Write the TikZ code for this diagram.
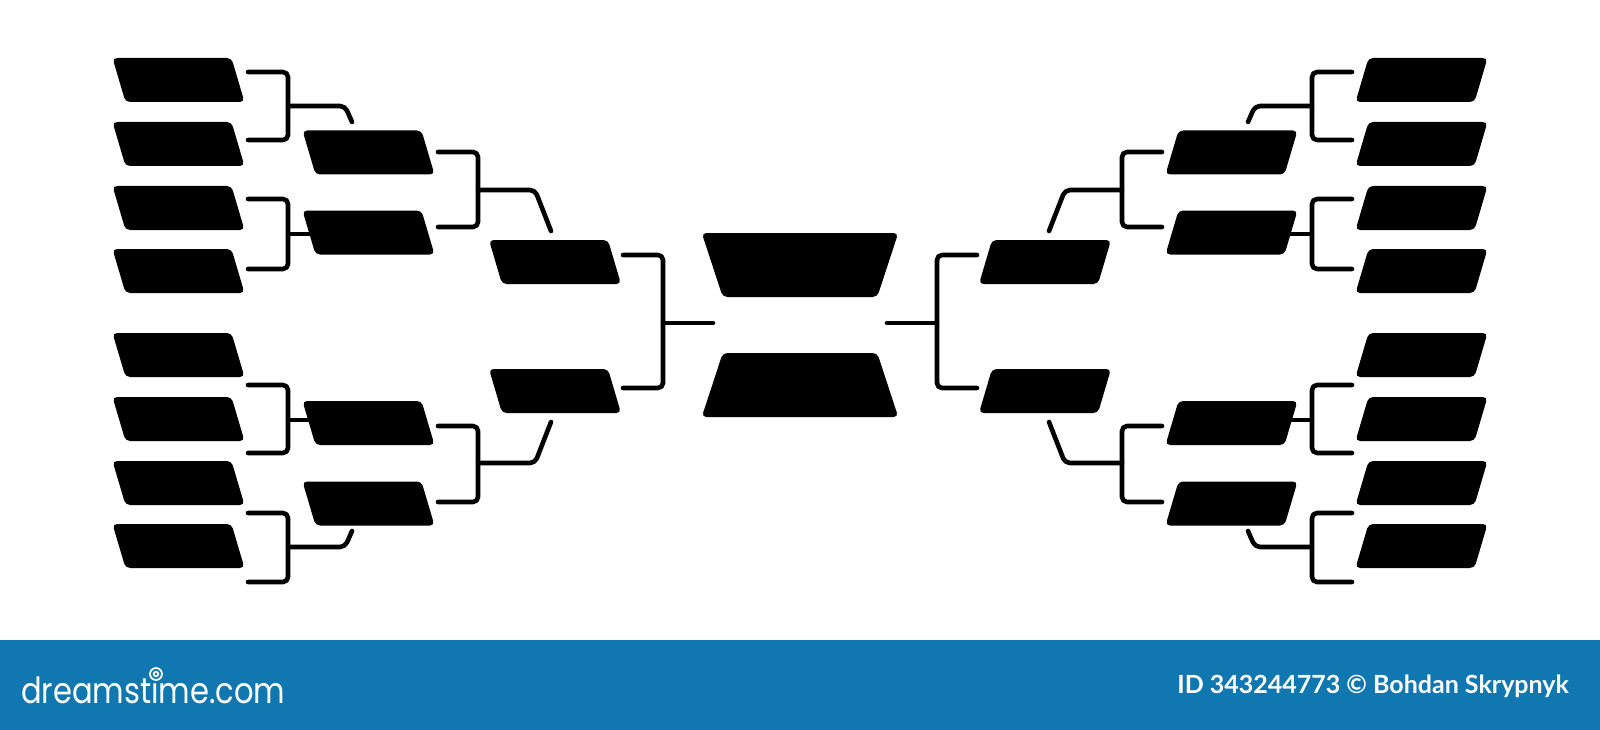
\documentclass[tikz,border=0pt]{standalone}
\usepackage{fontspec}
\newfontfamily\logofont{Poppins}
\newfontfamily\idfont{Lato}
\definecolor{bannerblue}{RGB}{17,119,176}
% bracket: name, x of arm ends, x of vertical, y top arm, y bottom arm, y stem
\newcommand{\mkbr}[6]{%
  \coordinate (#1t) at (#2,#4);
  \coordinate (#1b) at (#2,#5);
  \coordinate (#1m) at (#3,#6);
  \draw[conn] (#1t) -| (#1m) |- (#1b);
}
% parallelogram box: name, x, y, top shift, bottom shift
\newcommand{\pbox}[5]{%
  \node[slot] (#1) at (#2,#3) {};
  \fill[boxfill] ([xshift=#4]#1.north west) -- ([xshift=#4]#1.north east)
    -- ([xshift=#5]#1.south east) -- ([xshift=#5]#1.south west) -- cycle;
}
\tikzset{
  slot/.style={shape=rectangle, draw=none, fill=none, minimum width=119pt,
    minimum height=44pt, inner sep=0pt, outer sep=0pt},
  trophyslot/.style={slot, minimum width=175.5pt, minimum height=64pt},
  boxfill/.style={fill=black, rounded corners=4.5pt},
  conn/.style={line width=4.6pt, line cap=round, line join=round, rounded corners=5pt},
  logotext/.style={text=white, inner sep=0pt, outer sep=0pt},
}
\begin{document}
\begin{tikzpicture}[x=1pt,y=-1pt]
\useasboundingbox (0,0) rectangle (1600,730);
% ---- left column 1
\pbox{L1a}{178.5}{80}{-6.5pt}{6.5pt}
\pbox{L1b}{178.5}{144}{-6.5pt}{6.5pt}
\pbox{L1c}{178.5}{208}{-6.5pt}{6.5pt}
\pbox{L1d}{178.5}{271}{-6.5pt}{6.5pt}
\pbox{L1e}{178.5}{355}{-6.5pt}{6.5pt}
\pbox{L1f}{178.5}{419}{-6.5pt}{6.5pt}
\pbox{L1g}{178.5}{483}{-6.5pt}{6.5pt}
\pbox{L1h}{178.5}{546}{-6.5pt}{6.5pt}
% ---- left column 2
\pbox{L2a}{368.5}{152.5}{-6.5pt}{6.5pt}
\pbox{L2b}{368.5}{232.5}{-6.5pt}{6.5pt}
\pbox{L2c}{368.5}{423}{-6.5pt}{6.5pt}
\pbox{L2d}{368.5}{503.5}{-6.5pt}{6.5pt}
% ---- left column 3
\pbox{L3a}{555}{262}{-6.5pt}{6.5pt}
\pbox{L3b}{555}{391}{-6.5pt}{6.5pt}
% ---- right column 1
\pbox{R1a}{1421.5}{80}{6.5pt}{-6.5pt}
\pbox{R1b}{1421.5}{144}{6.5pt}{-6.5pt}
\pbox{R1c}{1421.5}{208}{6.5pt}{-6.5pt}
\pbox{R1d}{1421.5}{271}{6.5pt}{-6.5pt}
\pbox{R1e}{1421.5}{355}{6.5pt}{-6.5pt}
\pbox{R1f}{1421.5}{419}{6.5pt}{-6.5pt}
\pbox{R1g}{1421.5}{483}{6.5pt}{-6.5pt}
\pbox{R1h}{1421.5}{546}{6.5pt}{-6.5pt}
% ---- right column 2
\pbox{R2a}{1231.5}{152.5}{6.5pt}{-6.5pt}
\pbox{R2b}{1231.5}{232.5}{6.5pt}{-6.5pt}
\pbox{R2c}{1231.5}{423}{6.5pt}{-6.5pt}
\pbox{R2d}{1231.5}{503.5}{6.5pt}{-6.5pt}
% ---- right column 3
\pbox{R3a}{1045}{262}{6.5pt}{-6.5pt}
\pbox{R3b}{1045}{391}{6.5pt}{-6.5pt}
% ---- trophies
\node[trophyslot] (T1) at (800,265) {};
\fill[boxfill] ([xshift=-10.5pt]T1.north west) -- ([xshift=10.5pt]T1.north east)
  -- ([xshift=-10.5pt]T1.south east) -- ([xshift=10.5pt]T1.south west) -- cycle;
\node[trophyslot] (T2) at (800,385) {};
\fill[boxfill] ([xshift=10.5pt]T2.north west) -- ([xshift=-10.5pt]T2.north east)
  -- ([xshift=10.5pt]T2.south east) -- ([xshift=-10.5pt]T2.south west) -- cycle;
% ---- left brackets
\mkbr{BLa}{248}{288}{72}{140}{106}
\coordinate (BLak) at (345,106); \coordinate (BLae) at (352,122);
\draw[conn] (BLam) -- (BLak) -- (BLae);
\mkbr{BLb}{248}{288}{199}{269}{234}
\draw[conn] (BLbm) -- (BLbm -| L2b.west);
\mkbr{BLc}{248}{288}{385}{453}{420}
\draw[conn] (BLcm) -- (BLcm -| L2c.west);
\mkbr{BLd}{248}{288}{513}{582}{547}
\coordinate (BLdk) at (345,547); \coordinate (BLde) at (352,531);
\draw[conn] (BLdm) -- (BLdk) -- (BLde);
\mkbr{CLa}{438}{478}{152}{227}{190}
\coordinate (CLak) at (535,190); \coordinate (CLae) at (551,231);
\draw[conn] (CLam) -- (CLak) -- (CLae);
\mkbr{CLb}{438}{478}{426}{502}{463}
\coordinate (CLbk) at (535,463); \coordinate (CLbe) at (551,422);
\draw[conn] (CLbm) -- (CLbk) -- (CLbe);
\mkbr{FL}{623}{663}{255}{388}{323}
\coordinate (FLe) at (713,323);
\draw[conn] (FLm) -- (FLe);
% ---- right brackets
\mkbr{BRa}{1352}{1312}{72}{140}{106}
\coordinate (BRak) at (1255,106); \coordinate (BRae) at (1248,122);
\draw[conn] (BRam) -- (BRak) -- (BRae);
\mkbr{BRb}{1352}{1312}{199}{269}{234}
\draw[conn] (BRbm) -- (BRbm -| R2b.east);
\mkbr{BRc}{1352}{1312}{385}{453}{420}
\draw[conn] (BRcm) -- (BRcm -| R2c.east);
\mkbr{BRd}{1352}{1312}{513}{582}{547}
\coordinate (BRdk) at (1255,547); \coordinate (BRde) at (1248,531);
\draw[conn] (BRdm) -- (BRdk) -- (BRde);
\mkbr{CRa}{1162}{1122}{152}{227}{190}
\coordinate (CRak) at (1065,190); \coordinate (CRae) at (1049,231);
\draw[conn] (CRam) -- (CRak) -- (CRae);
\mkbr{CRb}{1162}{1122}{426}{502}{463}
\coordinate (CRbk) at (1065,463); \coordinate (CRbe) at (1049,422);
\draw[conn] (CRbm) -- (CRbk) -- (CRbe);
\mkbr{FR}{977}{937}{255}{388}{323}
\coordinate (FRe) at (887,323);
\draw[conn] (FRm) -- (FRe);
% ---- banner
\node[fill=bannerblue, draw=none, anchor=north west, inner sep=0pt, outer sep=0pt,
      minimum width=1600pt, minimum height=90pt] (banner) at (0,640) {};
\node[logotext, anchor=base west] (logoA) at (21,703)
  {\scalebox{0.85}[1]{\fontsize{36}{40}\logofont dreamst}};
\node[logotext, anchor=base west] (logoB) at (logoA.base east)
  {\scalebox{0.85}[1]{\fontsize{36}{40}\logofont \i me.com}};
\coordinate (spiral) at ([xshift=4.6pt,yshift=29pt]logoB.base west);
\draw[white, line width=1.7pt] (spiral) circle[radius=6pt];
\draw[white, line width=1.7pt] (spiral) circle[radius=2.3pt];
\node[anchor=base east, text=white, inner sep=0pt] (credit) at (1569,693)
  {\fontsize{25}{30}\idfont\bfseries ID 343244773 © Bohdan Skrypnyk};
\end{tikzpicture}
\end{document}
